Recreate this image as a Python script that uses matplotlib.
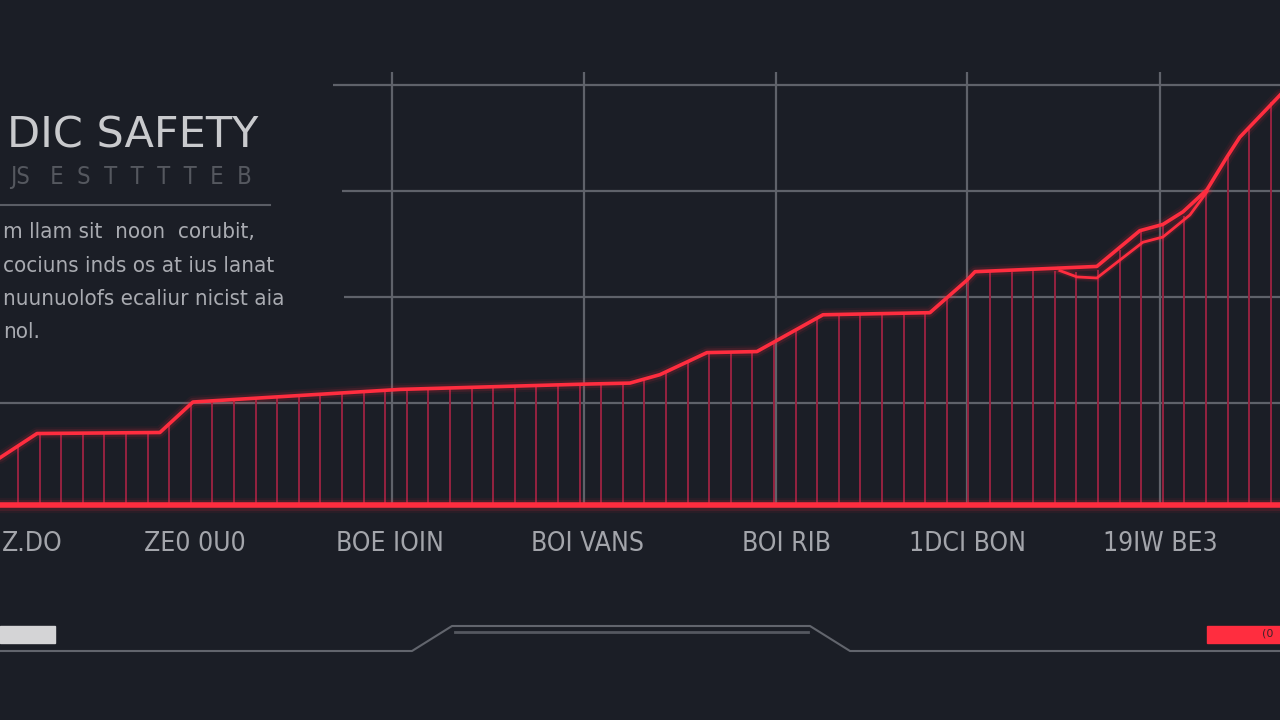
import matplotlib.pyplot as plt
from matplotlib import font_manager as fm
from matplotlib.patches import Rectangle

# --- data (x in sample index units, y in score units) ---
line_x = [-0.83, 0.88, 6.57, 8.10, 17.69, 26.20, 28.33, 29.72, 31.90, 34.21,
          37.27, 42.22, 43.94, 44.31, 48.84, 49.95, 51.94, 53.01, 53.94,
          55.05, 55.97, 56.57, 57.50, 58.43]
line_y = [45, 68, 69, 98, 110, 115, 116, 124, 145, 146,
          181, 183, 214, 222, 226, 227, 261, 267, 279,
          300, 331, 350, 370, 390]

# second (offset) trace near the end
alt_x = [48.24, 49.03, 49.95, 52.08, 53.01, 54.26, 55.05]
alt_y = [223, 217, 216, 250, 255, 276, 298]

stem_x = list(range(59))
stem_h = [56, 68, 68, 68, 68, 68, 69, 77, 96, 99,
          100, 101, 103, 104, 105, 106, 107, 109, 110, 110,
          111, 112, 112, 113, 114, 114, 115, 116, 116, 120,
          126, 136, 145, 145, 146, 155, 166, 178, 181, 181,
          182, 182, 183, 197, 216, 222, 222, 223, 223, 222,
          224, 243, 260, 265, 275, 299, 331, 361, 383]

tick_pos = [0.65, 8.19, 17.22, 26.39, 35.56, 43.94, 52.87]
tick_labels = ["Z.DO", "ZE0 0U0", "BOE IOIN", "BOI VANS", "BOI RIB", "1DCI BON", "19IW BE3"]
vgrid_x = [17.31, 26.20, 35.09, 43.94, 52.87]
hgrid_y = [97, 198, 299, 400]
hgrid_start = [-0.83, 15.1, 15.0, 14.6]

title = "DIC SAFETY"
subtitle = "JS   E  S  T  T  T  T  E  B"
body = ["m llam sit  noon  corubit,",
        "cociuns inds os at ius lanat",
        "nuunuolofs ecaliur nicist aia",
        "nol."]

BG = "#1b1e26"
RED = "#ff2d3f"
GRID = "#5f626a"

# narrow face for the small texts if the system has one
_p = fm.findfont(fm.FontProperties(family="DejaVu Sans", stretch="condensed"))
NARROW = dict(family="DejaVu Sans", stretch="condensed") if "Condensed" in _p else dict(family="Roboto")

fig = plt.figure(figsize=(12.8, 7.2), dpi=100, facecolor=BG)

# decoration / text layer in pixel coordinates
deco = fig.add_axes([0, 0, 1, 1])
deco.set_xlim(0, 1280)
deco.set_ylim(720, 0)
deco.axis("off")

deco.text(258, 136, title, ha="right", va="center", fontsize=31,
          color="#c9cacd", family="DejaVu Sans")
deco.text(10, 177, subtitle, ha="left", va="center", fontsize=17,
          color="#55585f", **NARROW)
deco.plot([0, 270], [205, 205], color="#5a5d65", lw=1.5)
body_y = [232, 266, 299, 332]
for t, by in zip(body, body_y):
    deco.text(3, by, t, ha="left", va="center", fontsize=16,
              color="#a9abb1", **NARROW)

# bottom frame
deco.plot([0, 412, 452, 810, 850, 1280], [651, 651, 626, 626, 651, 651],
          color="#62656d", lw=1.5)
deco.plot([455, 808], [632, 632], color="#555860", lw=2)
deco.add_patch(Rectangle((0, 626), 55, 17, color="#d4d4d6"))
deco.add_patch(Rectangle((1207, 626), 73, 17, color=RED))
deco.text(1262, 634, "(0", ha="left", va="center", fontsize=8, color="#40222a")

# chart layer
ax = fig.add_axes([0, (720 - 505) / 720, 1, (505 - 72) / 720])
ax.set_facecolor("none")
ax.set_xlim(-0.833, 58.43)
ax.set_ylim(0, 412)
for s in ax.spines.values():
    s.set_visible(False)
ax.set_yticks([])

for y, x0 in zip(hgrid_y, hgrid_start):
    ax.hlines(y, x0, 58.43, color=GRID, lw=1.6, zorder=1)
ax.vlines(vgrid_x, 0, 412, color=GRID, lw=1.6, zorder=1)

ax.vlines(stem_x, 0, stem_h, color="#952340", lw=1.4, zorder=2)

# glow + main line
for lw, a in [(9, 0.06), (6, 0.12)]:
    ax.plot(line_x, line_y, color=RED, lw=lw, alpha=a, solid_capstyle="round", zorder=3)
    ax.plot(alt_x, alt_y, color=RED, lw=lw * 0.7, alpha=a, zorder=3)
    ax.axhline(0, color=RED, lw=lw + 2, alpha=a, clip_on=False, zorder=3)
ax.plot(line_x, line_y, color=RED, lw=2.6, solid_joinstyle="round", zorder=4)
ax.plot(alt_x, alt_y, color=RED, lw=2.0, zorder=4)
ax.axhline(0, color=RED, lw=4, clip_on=False, zorder=4)

ax.set_xticks(tick_pos, tick_labels)
ax.tick_params(axis="x", length=0, pad=19, labelsize=19, labelcolor="#a3a5ab")
for lab in ax.get_xticklabels():
    lab.set_fontproperties(fm.FontProperties(size=19, **NARROW))

fig.savefig("out.png", dpi=100, facecolor=BG)
